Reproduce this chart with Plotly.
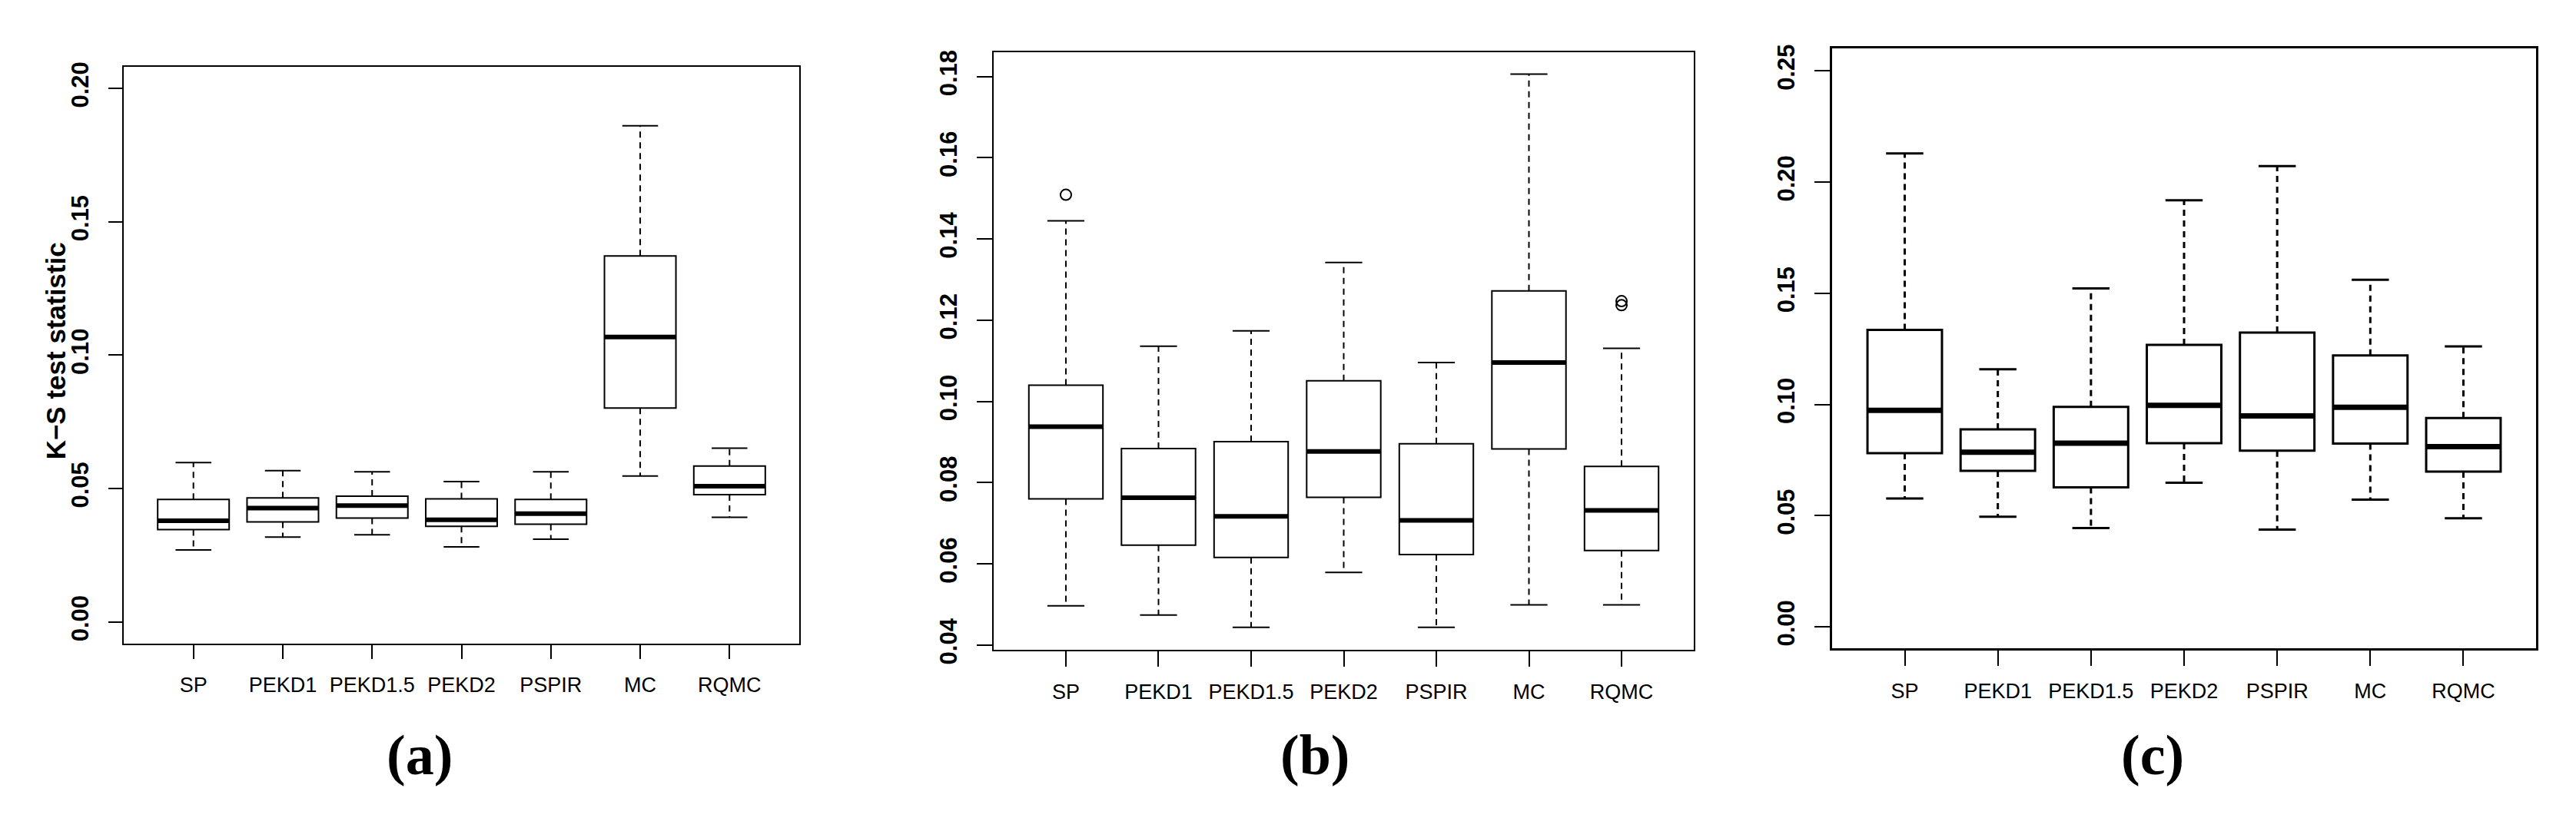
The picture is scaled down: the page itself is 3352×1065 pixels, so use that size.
import plotly.graph_objects as go

categories = ["SP", "PEKD1", "PEKD1.5", "PEKD2", "PSPIR", "MC", "RQMC"]

# ---------- panel (a) ----------
a_lower  = [0.0270, 0.0318, 0.0327, 0.0281, 0.0310, 0.0547, 0.0392]
a_q1     = [0.0346, 0.0375, 0.0389, 0.0358, 0.0366, 0.0802, 0.0477]
a_median = [0.0379, 0.0427, 0.0436, 0.0383, 0.0406, 0.1068, 0.0509]
a_q3     = [0.0459, 0.0465, 0.0471, 0.0461, 0.0459, 0.1372, 0.0584]
a_upper  = [0.0597, 0.0567, 0.0563, 0.0526, 0.0563, 0.1860, 0.0651]
a_out_cat = []
a_out_val = []

# ---------- panel (b) ----------
b_lower  = [0.0497, 0.0474, 0.0444, 0.0579, 0.0444, 0.0499, 0.0499]
b_q1     = [0.0760, 0.0646, 0.0616, 0.0764, 0.0623, 0.0883, 0.0633]
b_median = [0.0938, 0.0763, 0.0717, 0.0877, 0.0707, 0.1096, 0.0732]
b_q3     = [0.1040, 0.0884, 0.0901, 0.1051, 0.0896, 0.1272, 0.0840]
b_upper  = [0.1445, 0.1136, 0.1174, 0.1342, 0.1096, 0.1806, 0.1131]
b_out_cat = ["SP", "RQMC", "RQMC"]
b_out_val = [0.1509, 0.1247, 0.1237]

# ---------- panel (c) ----------
c_lower  = [0.0577, 0.0495, 0.0444, 0.0648, 0.0437, 0.0572, 0.0488]
c_q1     = [0.0781, 0.0701, 0.0627, 0.0826, 0.0792, 0.0824, 0.0698]
c_median = [0.0973, 0.0785, 0.0826, 0.0996, 0.0948, 0.0987, 0.0810]
c_q3     = [0.1335, 0.0888, 0.0989, 0.1268, 0.1323, 0.1220, 0.0939]
c_upper  = [0.2129, 0.1158, 0.1522, 0.1918, 0.2072, 0.1561, 0.1261]
c_out_cat = []
c_out_val = []

a_yticks = [0.00, 0.05, 0.10, 0.15, 0.20]
b_yticks = [0.04, 0.06, 0.08, 0.10, 0.12, 0.14, 0.16, 0.18]
c_yticks = [0.00, 0.05, 0.10, 0.15, 0.20, 0.25]

y_title_a = "K\u2212S test statistic"
captions = ["(a)", "(b)", "(c)"]

positions = list(range(1, len(categories) + 1))
pos_of = dict(zip(categories, positions))
BOXW = 0.8

fig = go.Figure()

panels = [
    dict(lo=a_lower, q1=a_q1, md=a_median, q3=a_q3, hi=a_upper, oc=a_out_cat, ov=a_out_val,
         xa="x", ya="y", lw=2, mw=6, fw=2, ticks=a_yticks, yr=[-0.0082, 0.2080],
         xd=[153/3352, 1032/3352], yd=[1-844/1065, 1-75/1065], tl=18),
    dict(lo=b_lower, q1=b_q1, md=b_median, q3=b_q3, hi=b_upper, oc=b_out_cat, ov=b_out_val,
         xa="x2", ya="y2", lw=2, mw=6, fw=2, ticks=b_yticks, yr=[0.03885, 0.18605],
         xd=[1285/3352, 2196/3352], yd=[1-852/1065, 1-55/1065], tl=20),
    dict(lo=c_lower, q1=c_q1, md=c_median, q3=c_q3, hi=c_upper, oc=c_out_cat, ov=c_out_val,
         xa="x3", ya="y3", lw=3, mw=7, fw=3, ticks=c_yticks, yr=[-0.0097, 0.2602],
         xd=[2376/3352, 3292/3352], yd=[1-850/1065, 1-50/1065], tl=20),
]

for p in panels:
    # boxes
    fig.add_trace(go.Box(
        x=positions, q1=p["q1"], median=p["md"], q3=p["q3"],
        lowerfence=p["q1"], upperfence=p["q3"],
        width=BOXW, whiskerwidth=0.5,
        line=dict(color="black", width=p["lw"]), fillcolor="white",
        xaxis=p["xa"], yaxis=p["ya"], showlegend=False, name="",
    ))
    # dashed whiskers
    wx, wy = [], []
    for x, lo, q1, q3, hi in zip(positions, p["lo"], p["q1"], p["q3"], p["hi"]):
        wx += [x, x, None, x, x, None]
        wy += [q3, hi, None, q1, lo, None]
    fig.add_trace(go.Scatter(x=wx, y=wy, mode="lines",
                             line=dict(color="black", width=p["lw"], dash="8px,6px"),
                             xaxis=p["xa"], yaxis=p["ya"], showlegend=False, hoverinfo="skip"))
    # staples
    sx, sy = [], []
    for x, lo, hi in zip(positions, p["lo"], p["hi"]):
        sx += [x - BOXW / 4, x + BOXW / 4, None, x - BOXW / 4, x + BOXW / 4, None]
        sy += [hi, hi, None, lo, lo, None]
    fig.add_trace(go.Scatter(x=sx, y=sy, mode="lines",
                             line=dict(color="black", width=p["lw"]),
                             xaxis=p["xa"], yaxis=p["ya"], showlegend=False, hoverinfo="skip"))
    # thick medians
    mx, my = [], []
    for x, md in zip(positions, p["md"]):
        mx += [x - BOXW / 2, x + BOXW / 2, None]
        my += [md, md, None]
    fig.add_trace(go.Scatter(x=mx, y=my, mode="lines",
                             line=dict(color="black", width=p["mw"]),
                             xaxis=p["xa"], yaxis=p["ya"], showlegend=False, hoverinfo="skip"))
    # outliers
    if p["oc"]:
        fig.add_trace(go.Scatter(x=[pos_of[c] for c in p["oc"]], y=p["ov"], mode="markers",
                                 marker=dict(symbol="circle-open", size=14, color="black",
                                             line=dict(width=2)),
                                 xaxis=p["xa"], yaxis=p["ya"], showlegend=False))

layout = dict(
    width=3352, height=1065,
    margin=dict(l=0, r=0, t=0, b=0),
    paper_bgcolor="white", plot_bgcolor="white",
    showlegend=False,
)

for i, p in enumerate(panels):
    suffix = "" if i == 0 else str(i + 1)
    layout["xaxis" + suffix] = dict(
        domain=p["xd"], anchor=p["ya"], range=[0.22, 7.78],
        tickmode="array", tickvals=positions, ticktext=categories,
        ticks="outside", ticklen=p["tl"], tickwidth=2, tickcolor="black",
        showline=True, mirror=True, linecolor="black", linewidth=p["fw"],
        showgrid=False, zeroline=False, ticklabelstandoff=10,
        tickfont=dict(family="Liberation Sans, Arial, sans-serif", size=27, color="black"),
    )
    layout["yaxis" + suffix] = dict(
        domain=p["yd"], anchor=p["xa"], range=p["yr"],
        tickmode="array", tickvals=p["ticks"], tickformat=".2f", tickangle=-90,
        ticks="outside", ticklen=p["tl"], tickwidth=2, tickcolor="black",
        showline=True, mirror=True, linecolor="black", linewidth=p["fw"],
        showgrid=False, zeroline=False, ticklabelstandoff=14,
        tickfont=dict(family="Liberation Sans, Arial, sans-serif", size=31, color="black",
                      weight="bold"),
    )

cap_x = [538/3352, 1703/3352, 2793/3352]
annotations = [
    dict(text=t, x=cx, y=1 - 992/1065, xref="paper", yref="paper",
         showarrow=False, xanchor="center", yanchor="middle",
         font=dict(family="Liberation Serif, Times New Roman, serif", size=74,
                   color="black", weight="bold"))
    for t, cx in zip(captions, cap_x)
]
# y-axis title of panel (a)
annotations.append(dict(
    text=y_title_a, textangle=-90, x=64/3352, y=1 - 454/1065,
    xref="paper", yref="paper", showarrow=False, xanchor="center", yanchor="middle",
    font=dict(family="Liberation Sans, Arial, sans-serif", size=35, color="black", weight="bold"),
))
layout["annotations"] = annotations

fig.update_layout(**layout)
fig.write_html("out.html")
